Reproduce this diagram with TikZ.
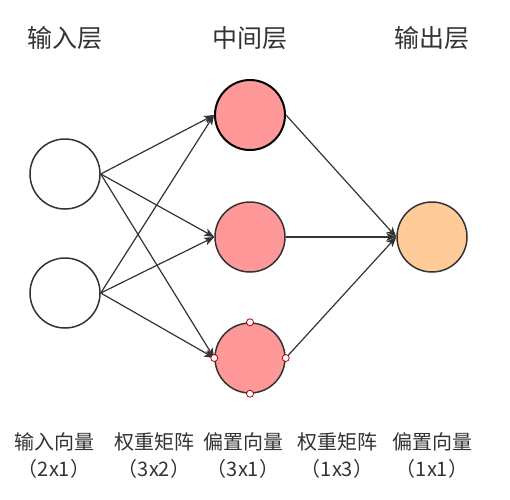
\documentclass[tikz,border=0pt]{standalone}
\usepackage{fontspec}
\setmainfont{Noto Sans CJK SC}
\usetikzlibrary{positioning, arrows.meta}
\definecolor{linegray}{HTML}{333333}
\definecolor{hiddenred}{HTML}{FF9999}
\definecolor{outorange}{HTML}{FFCC99}
\tikzset{
    %Define style for neurons
    neuron/.style={
           circle,
           draw=linegray, line width=1.5pt,
           minimum size=70pt,
           inner sep=0pt},
 %
    inneuron/.style={neuron, fill=white},
 %
    hidneuron/.style={neuron, fill=hiddenred},
 %
    outneuron/.style={neuron, fill=outorange},
 %
    % Define label styles
    layer/.style={text=linegray, font=\fontsize{25}{30}\selectfont},
    dimlabel/.style={text=linegray, align=center, font=\fontsize{20}{27}\selectfont},
 %
    % Define arrow style
    arrow/.style={
           -{Stealth[length=10pt,width=8pt,inset=2.5pt]},
           draw=linegray, line width=1.2pt},
 %
    handle/.style={
           circle,
           draw=red!70!black, fill=white, line width=0.8pt,
           minimum size=7pt, inner sep=0pt}
}
\begin{document}
\begin{tikzpicture}[x=1pt, y=-1pt]
  \useasboundingbox (0,0) rectangle (510,499);

  % neurons
  \node[inneuron] (in1) at (65,174) {};
  \node[inneuron] (in2) at (65,293) {};
  \node[hidneuron, draw=black, line width=2pt] (hid1) at (250,115) {};
  \node[hidneuron] (hid2) at (250,237) {};
  \node[hidneuron] (hid3) at (250,358) {};
  \node[outneuron] (out) at (432,237) {};

  % layer titles
  \node[layer] (tin) at (65,38) {输入层};
  \node[layer] (thid) at (250,38) {中间层};
  \node[layer] (tout) at (432,38) {输出层};

  % connections
  \foreach \i in {in1,in2}
    \foreach \j in {hid1,hid2,hid3}
      \draw[arrow] (\i.east) -- (\j.west);
  \foreach \j in {hid1,hid2,hid3}
    \draw[arrow] (\j.east) -- (out.west);

  % selection handles
  \foreach \a in {north,east,south,west}
    \node[handle] (hdl-\a) at (hid3.\a) {};

  % dimensions
  \node[dimlabel] (dx) at (54,456) {输入向量\\（2x1）};
  \node[dimlabel] (dw1) at (154,456) {权重矩阵\\（3x2）};
  \node[dimlabel] (db1) at (243,456) {偏置向量\\（3x1）};
  \node[dimlabel] (dw2) at (337,456) {权重矩阵\\（1x3）};
  \node[dimlabel] (db2) at (432,456) {偏置向量\\（1x1）};
\end{tikzpicture}
\end{document}
